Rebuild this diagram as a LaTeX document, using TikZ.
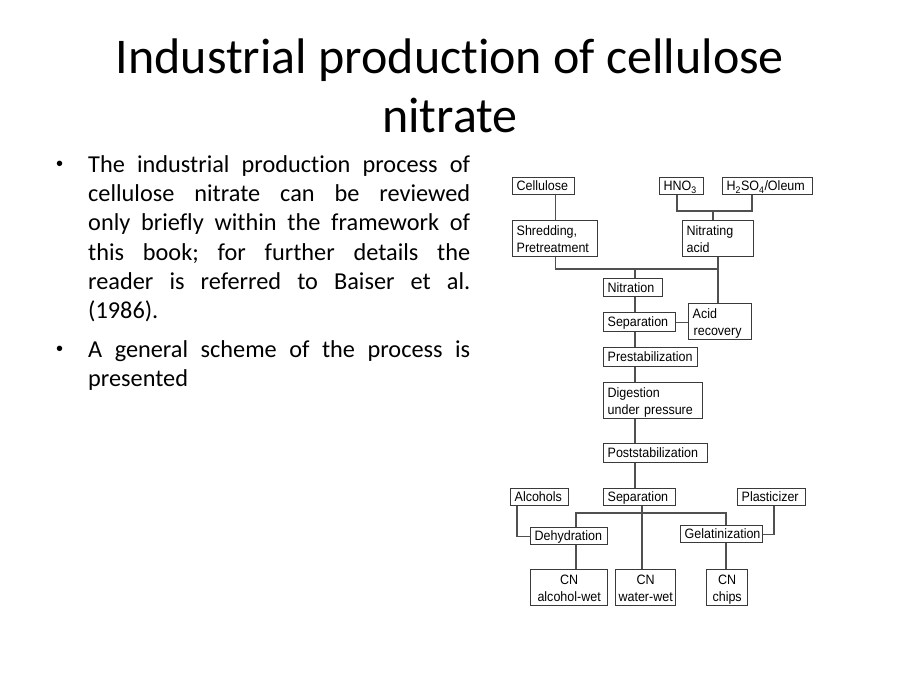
\documentclass[tikz,border=0pt]{standalone}
\usepackage{fontspec}
\setmainfont{Carlito}[RawFeature=-liga]
\newfontfamily\diagfont{Liberation Sans}[FakeStretch=0.92]
\newfontfamily\bulfont{Liberation Sans}
\definecolor{boxline}{HTML}{3A3A3A}
\definecolor{conline}{HTML}{505050}
\begin{document}
\frenchspacing
\begin{tikzpicture}[x=1pt,y=-1pt,
  box/.style={draw=boxline, line width=1.3pt, inner xsep=4pt, inner ysep=0pt,
    anchor=north west, align=left, font=\diagfont\fontsize{13.6}{16.5}\selectfont},
  one/.style={box, text height=11pt, text depth=1.4pt},
  two/.style={box, text height=11.9pt, text depth=17.9pt, minimum height=36pt},
  cbox/.style={two, inner xsep=1pt, align=center},
  con/.style={draw=conline, line width=1.2pt},
  para/.style={anchor=base west, inner sep=0pt, text width=382pt, align=justify,
    font=\frenchspacing\fontsize{24.3}{29.3}\selectfont},
  bul/.style={anchor=base west, inner sep=0pt, font=\bulfont\fontsize{20}{24}\selectfont},
  ttl/.style={anchor=base, inner sep=0pt, font=\fontsize{50}{60}\selectfont}]
\useasboundingbox[fill=white] (0,0) rectangle (900,675);
% title
\node[ttl] (t1) at (450,73) {Industrial production of cellulose};
\node[ttl] (t2) at (450,132) {nitrate};
% bullets
\node[bul] (b1) at (56,170.5) {•};
\node[para] (p1) at (88,172.3) {The industrial production process of\linebreak cellulose nitrate can be reviewed\linebreak only briefly within the framework of\linebreak this book; for further details the\linebreak reader is referred to Baiser et al.\linebreak (1986).};
\node[bul] (b2) at (56,355.2) {•};
\node[para] (p2) at (88,357) {A general scheme of the process is\linebreak presented};
% diagram boxes
\node[one, text width=54pt, minimum height=17pt] (cell) at (512,177) {Cellulose};
\node[one, text width=36pt, minimum height=17pt] (hno) at (659,177) {HNO\textsubscript{3}};
\node[one, text width=82pt, minimum height=17pt] (hso) at (722,177) {H\textsubscript{2}SO\textsubscript{4}/Oleum};
\node[two, text width=77pt] (shred) at (512,220) {Shredding,\\Pretreatment};
\node[two, text width=63pt] (nacid) at (682,220) {Nitrating\\acid};
\node[one, text width=51pt, minimum height=18pt] (nitr) at (603,278) {Nitration};
\node[one, text width=64pt, minimum height=19pt] (sep1) at (603,312) {Separation};
\node[two, text width=55pt] (acid) at (688,303) {Acid\\\hspace*{1pt}recovery};
\node[one, text width=86pt, minimum height=19pt] (pre) at (603,347) {Prestabilization};
\node[two, text width=91pt] (dig) at (603,382) {Digestion\\under pressure};
\node[one, text width=96pt, minimum height=19pt] (post) at (603,443) {Poststabilization};
\node[one, text width=50pt, minimum height=17pt] (alc) at (510,488) {Alcohols};
\node[one, text width=64pt, minimum height=17pt] (sep2) at (603,488) {Separation};
\node[one, text width=60pt, minimum height=17pt] (plast) at (737,488) {Plasticizer};
\node[one, text width=69pt, minimum height=17pt] (dehyd) at (530,527) {Dehydration};
\node[one, text width=74pt, minimum height=17pt] (gel) at (680,525) {Gelatinization};
\node[cbox, text width=75pt] (cnaw) at (530,569) {CN\\alcohol-wet};
\node[cbox, text width=58pt] (cnww) at (615,569) {CN\\water-wet};
\node[cbox, text width=39pt] (cnch) at (706,569) {CN\\chips};
% junctions
\coordinate (trunk) at (635,0);
\coordinate (trunkb) at (642,0);
\coordinate (jacid) at (713,211);
\coordinate (jnit) at (718,269);
\coordinate (jsep) at (642,513);
% connectors
\draw[con] (cell.south -| shred.north) -- (shred.north);
\draw[con] (hno.south -| 677,0) |- (jacid) -| (hso.south -| 752,0);
\draw[con] (jacid) -- (nacid.north -| jacid);
\draw[con] (shred.south) |- (jnit);
\draw[con] (nacid.south -| jnit) -- (acid.north -| jnit);
\draw[con] (nitr.north -| trunk) -- (jnit -| trunk);
\draw[con] (nitr.south -| trunk) -- (sep1.north -| trunk);
\draw[con] (sep1.south -| trunk) -- (pre.north -| trunk);
\draw[con] (sep1.east) -- (acid.west |- sep1.east);
\draw[con] (pre.south -| trunk) -- (dig.north -| trunk);
\draw[con] (dig.south -| trunk) -- (post.north -| trunk);
\draw[con] (post.south -| trunk) -- (sep2.north -| trunk);
\draw[con] (sep2.south -| trunkb) -- (cnww.north -| trunkb);
\draw[con] (dehyd.north -| 576,0) |- (jsep) -| (gel.north -| 726,0);
\draw[con] (alc.south -| 517,0) |- (dehyd.west);
\draw[con] (plast.south -| 774,0) |- (gel.east);
\draw[con] (dehyd.south -| 576,0) -- (cnaw.north -| 576,0);
\draw[con] (gel.south -| 726,0) -- (cnch.north -| 726,0);
\end{tikzpicture}
\end{document}
